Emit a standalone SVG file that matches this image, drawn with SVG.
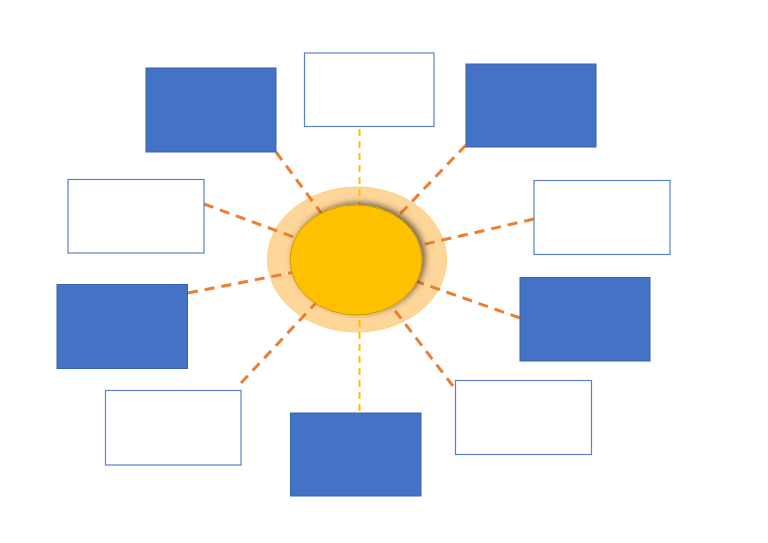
<svg xmlns="http://www.w3.org/2000/svg" width="768" height="543" viewBox="0 0 768 543">
<defs>
<style>
.blue{fill:#4472C4;stroke:#3A63AD;stroke-width:1}
.white{fill:#FFFFFF;stroke:#5B80C8;stroke-width:1.2}
.orange{stroke:#ED7D31;stroke-width:3;stroke-dasharray:10 7;fill:none}
.yellow{stroke:#FFC000;stroke-width:2;stroke-dasharray:7 5;fill:none}
</style>
<filter id="sh" x="-20%" y="-20%" width="140%" height="140%">
<feDropShadow dx="3" dy="-2" stdDeviation="3" flood-color="#000" flood-opacity="0.55"/>
</filter>
</defs>
<rect width="768" height="543" fill="#FFFFFF"/>
<g id="halo">
<ellipse cx="357" cy="259.5" rx="89.5" ry="72.5" fill="#FFD699" stroke="#FFD27A" stroke-width="1"/>
</g>
<g id="connectors">
<line class="orange" x1="276" y1="152" x2="356" y2="260"/>
<line class="yellow" x1="359.5" y1="129" x2="359.5" y2="260"/>
<line class="orange" x1="466" y1="145" x2="356" y2="260"/>
<line class="orange" x1="204" y1="204" x2="356" y2="260"/>
<line class="orange" x1="534" y1="219" x2="356" y2="260"/>
<line class="orange" x1="188" y1="293" x2="356" y2="260"/>
<line class="orange" x1="520" y1="318" x2="356" y2="260"/>
<line class="orange" x1="241" y1="383" x2="356" y2="260"/>
<line class="yellow" x1="359.5" y1="411" x2="359.5" y2="260"/>
<line class="orange" x1="453" y1="386" x2="356" y2="260"/>
</g>
<g id="center">
<ellipse cx="356" cy="260" rx="66" ry="55" fill="#FFC000" stroke="#C9A000" stroke-width="1" filter="url(#sh)"/>
</g>
<g id="node-top-left"><rect class="blue" x="146" y="68" width="130" height="84"/></g>
<g id="node-top"><rect class="white" x="304.5" y="53" width="129.5" height="73.5"/></g>
<g id="node-top-right"><rect class="blue" x="466" y="64" width="130" height="83"/></g>
<g id="node-left-upper"><rect class="white" x="68" y="179.5" width="136" height="73.5"/></g>
<g id="node-right-upper"><rect class="white" x="534" y="180.5" width="136" height="74"/></g>
<g id="node-left-lower"><rect class="blue" x="57" y="284.5" width="130.5" height="84"/></g>
<g id="node-right-lower"><rect class="blue" x="520" y="277.5" width="130" height="83.5"/></g>
<g id="node-bottom-left"><rect class="white" x="105.5" y="390.5" width="135.5" height="74.5"/></g>
<g id="node-bottom"><rect class="blue" x="290.5" y="413" width="130.5" height="83"/></g>
<g id="node-bottom-right"><rect class="white" x="455.5" y="380.5" width="136" height="74"/></g>
</svg>
